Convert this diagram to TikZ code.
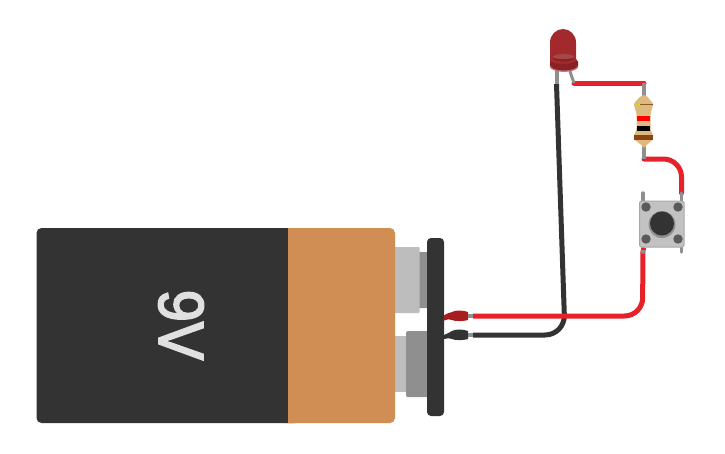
\documentclass[tikz,border=0pt]{standalone}
\usepackage{fontspec}
\setmainfont{Liberation Sans}
\newfontfamily\labelfont[FakeBold=2.6,FakeStretch=0.9]{Liberation Sans}
\definecolor{bodydark}{HTML}{333333}
\definecolor{copper}{HTML}{D18E54}
\definecolor{termlight}{HTML}{BDBDBD}
\definecolor{termdark}{HTML}{8F8F8F}
\definecolor{wirered}{HTML}{E6212A}
\definecolor{leadgray}{HTML}{8F8F8F}
\definecolor{snapred}{HTML}{A81E1E}
\definecolor{ledred}{HTML}{A32A2C}
\definecolor{ledbase}{HTML}{8A2124}
\definecolor{ledrim}{HTML}{B86A6A}
\definecolor{restan}{HTML}{DDB97E}
\definecolor{resbrown}{HTML}{8B4513}
\definecolor{btngray}{HTML}{C2C2C2}
\definecolor{btnedge}{HTML}{A8A8A8}
\definecolor{btnpin}{HTML}{5A5A5A}
\tikzset{
  redwire/.style={draw=wirered,line width=5pt,rounded corners=18pt},
  blackwire/.style={draw=bodydark,line width=5pt,rounded corners=20pt},
  leadline/.style={draw=leadgray,line width=4pt},
  thinlead/.style={draw=leadgray,line width=3pt,line join=round},
  pinline/.style={draw=leadgray,line width=3.5pt,line cap=round},
  band/.style={line width=5pt},
  btnscrew/.style={fill=btnpin,draw=none},
}
\begin{document}
\begin{tikzpicture}[x=1pt,y=-1pt]
\useasboundingbox (0,0) rectangle (725,453);
\fill[white] (0,0) rectangle (725,453);
% pins
\coordinate (snapRed) at (473,316);
\coordinate (snapBlack) at (473,335);
\coordinate (ledAnode) at (574,83);
\coordinate (ledCathode) at (556.5,84);
\coordinate (resTop) at (644,83);
\coordinate (resBottom) at (644,159);
\coordinate (btnTR) at (681.5,193);
\coordinate (btnBL) at (643,250);
% battery terminals
\fill[termdark,rounded corners=1pt] (417,252) rectangle (430,308);
\fill[termlight,rounded corners=1pt] (393,247) rectangle (419.5,313);
\fill[termlight] (393,336) rectangle (410,392);
\fill[termdark,rounded corners=1.5pt] (406,331) rectangle (430,397);
% battery body
\fill[bodydark,rounded corners=5pt] (36.5,228) rectangle (300,423);
\fill[copper,rounded corners=5pt] (280,228) rectangle (395,423);
\fill[bodydark] (280,228) rectangle (288,423);
\fill[bodydark,rounded corners=4pt] (427,238) rectangle (444,416);
\node[rotate=-90,text=white!88!black,inner sep=0pt,font=\labelfont\fontsize{64}{64}\selectfont] (nineV) at (181,325) {9V};
% snap leads
\fill[snapred] (444,315.5) .. controls (447,313) and (450,313) .. (452,312) .. controls (455,310) and (463,310) .. (468,312) -- (468,320) .. controls (463,321.5) and (455,321.5) .. (452,320) .. controls (450,319) and (447,319) .. (444,320.5) -- cycle;
\fill[bodydark] (444,335) .. controls (447,333) and (450,333) .. (452,331) .. controls (455,329) and (463,329) .. (468,331) -- (468,339) .. controls (463,340.5) and (455,340.5) .. (452,339) .. controls (450,338) and (447,338) .. (444,339) -- cycle;
\draw[leadline] (468,316) -- (snapRed);
\draw[leadline] (468,335) -- (snapBlack);
% wires
\draw[blackwire] (snapBlack) -- (565,335) -- (ledCathode);
\draw[redwire] (snapRed) -- (642.5,316) -- (btnBL);
\draw[draw=wirered,line width=5pt,line cap=round] (ledAnode) -- (resTop);
\draw[redwire,line cap=round] (resBottom) -- (681.5,159) -- (btnTR);
% LED
\draw[leadline] (556.5,70) -- (ledCathode);
\draw[thinlead] (570,71) -- (571.5,76) -- (ledAnode);
\fill[ledbase] (550,57) -- (550,66) arc[start angle=180,end angle=0,x radius=14,y radius=5.5] -- (578,62) arc[start angle=0,end angle=-180,x radius=14,y radius=5.5] -- cycle;
\draw[ledrim,line width=1.2pt] (550.5,66.5) arc[start angle=180,end angle=0,x radius=13.5,y radius=4.5];
\fill[ledred] (550,60) -- (550,42.5) arc[start angle=180,end angle=360,x radius=13,y radius=13.5] -- (576,60) arc[start angle=0,end angle=180,x radius=13,y radius=4] -- cycle;
\fill[ledbase] (553,58) arc[start angle=180,end angle=0,x radius=10.5,y radius=3.5] -- (574,58) arc[start angle=0,end angle=-180,x radius=10.5,y radius=3.5] -- cycle;
\fill[ledrim,opacity=.55] (553,57) arc[start angle=180,end angle=360,x radius=10.5,y radius=2.8] arc[start angle=0,end angle=180,x radius=10.5,y radius=2] -- cycle;
% resistor
\draw[leadline] (resTop) -- (644,96);
\draw[leadline] (644,146) -- (resBottom);
\fill[restan] (644,95) .. controls (647,95) and (648,98) .. (650,100) .. controls (652,101.5) and (653,103) .. (653,105) .. controls (653,109) and (650.5,110) .. (650.5,115) -- (650.5,128) .. controls (650.5,132) and (653,133) .. (653,137) .. controls (653,142) and (647,143) .. (644,148) .. controls (641,143) and (634,142) .. (634,137) .. controls (634,133) and (636.5,132) .. (636.5,128) -- (636.5,115) .. controls (636.5,110) and (634,109) .. (634,105) .. controls (634,103) and (635,101.5) .. (637,100) .. controls (639,98) and (641,95) .. (644,95) -- cycle;
\draw[line width=1.3pt,draw=resbrown!70!black!70!restan] (640,104.3) -- (653,104.3);
\draw[line width=1.3pt,draw=yellow!85!black] (634.5,104.3) -- (640,104.3);
\draw[band,draw=red] (636.8,118.3) -- (650.2,118.3);
\draw[band,draw=black] (636.8,128) -- (650.2,128);
\draw[band,draw=resbrown] (634.3,137.5) -- (652.7,137.5);
% button
\draw[pinline] (643,193) -- (643,203);
\draw[pinline] (681.5,193) -- (681.5,203);
\draw[pinline] (643,245) -- (643,252);
\draw[pinline] (681.5,245) -- (681.5,252);
\draw[fill=btngray,draw=btnedge,line width=1pt,rounded corners=1.5pt] (639.5,201) rectangle (684,247);
\foreach \x/\y/\n in {646/207/a,678/207/b,646/239/c,678/239/d}
  \fill[btnscrew] (\x,\y) circle[radius=4.7];
\draw[draw=wirered,line width=5pt] (btnBL) -- (643,248);
\fill[termdark] (662,224.5) circle[radius=13.5];
\fill[bodydark] (662,223.5) circle[radius=12];
\end{tikzpicture}
\end{document}
